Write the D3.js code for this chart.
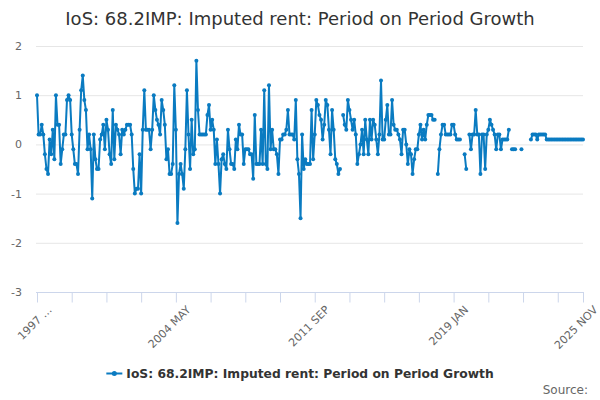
<!DOCTYPE html>
<html>
<head>
<meta charset="utf-8">
<script src="https://cdn.jsdelivr.net/npm/d3@7"></script>
<style>
  body { margin: 0; background: #fff; }
  svg { font-family: "DejaVu Sans", sans-serif; }
</style>
</head>
<body>
<div class="chart"></div>
<script>
// monthly series, 1997 JAN .. 2025 NOV
const startYear = 1997
const monthNames = ["JAN", "FEB", "MAR", "APR", "MAY", "JUN", "JUL", "AUG", "SEP", "OCT", "NOV", "DEC"]

const growth1997to2004 = [
  1.0, 0.2, 0.2, 0.4, 0.2, -0.2, -0.5, -0.6, 0.1, -0.2, 0.3,
  -0.3, 1.0, 0.4, 0.4, -0.4, -0.1, 0.2, 0.2, 0.9, 1.0, 0.9,
  0.2, -0.1, -0.4, -0.4, -0.6, 0.3, 1.1, 1.4, 0.9, 0.7, -0.1,
  0.2, -0.1, -1.1, 0.2, -0.3, -0.5, -0.5, 0.1, 0.2, 0.4, -0.1,
  0.5, 0.3, -0.2, -0.4, 0.7, -0.3, 0.4, 0.3, 0.2, -0.2, 0.3,
  0.2, 0.3, 0.4, 0.4, 0.4, 0.2, -0.5, -1.0, -0.9, -0.9, -0.2,
  -1.0, 0.3, 1.1, 0.3, 0.3, 0.3, -0.1, 0.3, 1.0, 0.7, 0.5,
  0.4, 0.2, 0.9, 0.7, 0.4, -0.3, -0.1, -0.6, -0.6, -0.4, 1.2
]
const growth2004to2011 = [
  0.3, -1.6, -0.6, -0.4, -0.6, -0.9, -0.1, 1.1, 0.2, -0.5, 0.5,
  -0.2, -0.1, 1.7, 0.7, 0.2, 0.2, 0.2, 0.2, 0.2, 0.6, 0.8,
  0.3, 0.5, 0.3, -0.4, 0.1, -0.4, -1.0, -0.3, -0.2, -0.4, -0.5,
  0.3, -0.1, -0.4, -0.4, -0.5, 0.1, -0.1, 0.4, 0.2, 0.2, -0.4,
  -0.1, -0.1, -0.1, -0.2, -0.2, -0.7, 0.6, -0.4, -0.4, -0.4, 0.3,
  -0.4, 1.1, -0.4, -0.5, 1.2, -0.1, 0.3, -0.1, -0.1, -0.2, -0.6,
  0.1, 0.1, 0.2, 0.2, 0.3, 0.7, 0.2, 0.2, 0.2, 0.1, 0.9,
  -0.3, -0.6, -1.5, 0.2, -0.5, -0.3, -0.4, -0.4, -0.4
]
const growth2011to2018 = [
  0.7, -0.3, 0.2, 0.9, 0.8, 0.6, 0.5, 0.1, 0.4, 0.9, 0.8,
  0.3, -0.2, 0.7, 0.3, -0.3, -0.4, -0.6, -0.5, null, 0.6, 0.4,
  0.3, 0.9, 0.7, 0.5, 0.3, 0.5, 0.2, -0.4, -0.2, 0.0, 0.3,
  -0.2, 0.5, 0.1, -0.2, 0.5, 0.1, 0.5, 0.4, 0.1, -0.2, 0.2,
  1.3, 0.1, 0.1, 0.5, 0.8, 0.2, 0.2, 0.9, 0.4, 0.3, 0.3,
  0.2, 0.1, -0.2, 0.3, 0.3, 0.0, -0.4, -0.1, -0.2, -0.6, -0.3,
  -0.1, -0.1, 0.2, 0.4, 0.1, 0.3, 0.1, 0.4, 0.6, 0.6, 0.6,
  0.5, 0.5
]
const growth2018to2025 = [
  null, -0.6, -0.1, 0.2, 0.4, 0.4, 0.2, 0.2, 0.2, 0.2, 0.4,
  0.4, 0.2, 0.1, 0.1, 0.1, null, null, -0.2, -0.5, null, 0.2,
  -0.1, 0.2, 0.2, 0.7, 0.2, 0.2, -0.6, 0.2, 0.2, -0.5, 0.2,
  0.3, 0.5, 0.4, 0.3, 0.2, -0.1, 0.2, 0.2, -0.1, 0.1, 0.1,
  0.1, 0.1, 0.3, null, -0.1, -0.1, -0.1, null, null, null, -0.1,
  null, null, null, null, null, 0.1, 0.2, 0.2, 0.2, 0.1, 0.2,
  0.2, 0.2, 0.2, 0.2, 0.1, 0.1, 0.1, 0.1, 0.1, 0.1, 0.1,
  0.1, 0.1, 0.1, 0.1, 0.1, 0.1, 0.1, 0.1, 0.1, 0.1, 0.1,
  0.1, 0.1, 0.1, 0.1, 0.1, 0.1
]

const yTicks = [-3, -2, -1, 0, 1, 2]
const tickEvery = 22
const labelEvery = 88

const seriesName = "IoS: 68.2IMP: Imputed rent: Period on Period Growth"
const color = "#0a7bc1"

const values = [...growth1997to2004, ...growth2004to2011, ...growth2011to2018, ...growth2018to2025]
const categories = values.map((_, i) => `${startYear + Math.floor(i / 12)} ${monthNames[i % 12]}`)
const data = values.map((v, i) => ({ i, label: categories[i], v }))

const width = 600
const height = 400
const margin = { top: 46, right: 17, bottom: 108, left: 36 }

const svg = d3.select(".chart").append("svg").attr("width", width).attr("height", height)

const x = d3.scaleLinear().domain([0, data.length - 1]).range([margin.left + 1, width - margin.right])
const y = d3.scaleLinear().domain([-3, 2]).range([height - margin.bottom, margin.top])

// title
svg.append("text")
  .attr("x", width / 2).attr("y", 25)
  .attr("text-anchor", "middle")
  .attr("fill", "#333").attr("font-size", 18)
  .text(seriesName)

// grid
svg.append("g")
  .selectAll("line")
  .data(yTicks.filter(d => d > -3))
  .enter().append("line")
  .attr("x1", margin.left).attr("x2", width - margin.right)
  .attr("y1", d => y(d) + 0.5).attr("y2", d => y(d) + 0.5)
  .attr("stroke", "#e6e6e6")

// y labels
svg.append("g")
  .selectAll("text")
  .data(yTicks)
  .enter().append("text")
  .attr("x", margin.left - 14).attr("y", d => y(d) + 4)
  .attr("text-anchor", "end")
  .attr("fill", "#666").attr("font-size", 11)
  .text(d => d)

// x axis
const tickIdx = d3.range(0, data.length - 1, tickEvery).concat([data.length - 1])
const xAxis = d3.axisBottom(x)
  .tickValues(tickIdx)
  .tickSize(10)
  .tickFormat(i => (i % labelEvery === 0 || i === data.length - 1) ? categories[i] : "")

const xAxisGroup = svg.append("g")
  .attr("transform", `translate(0, ${y(-3) + 0.5})`)
  .call(xAxis)

xAxisGroup.select(".domain").attr("stroke", "#ccd6eb").attr("d", `M${margin.left},0H${width - margin.right + 1}`)
xAxisGroup.selectAll(".tick line").attr("stroke", "#ccd6eb")
xAxisGroup.selectAll(".tick text")
  .attr("fill", "#666").attr("font-size", 11)
  .attr("font-family", "DejaVu Sans, sans-serif")
  .attr("text-anchor", "end")
  .attr("transform", "translate(3, 6) rotate(-45)")
  .attr("dy", "0.35em")
  .text(function (i) {
    const t = d3.select(this).text()
    return i === 0 ? t.replace(/ .*/, " \u2026") : t
  })

// line
const line = d3.line()
  .defined(d => d.v != null)
  .x(d => x(d.i))
  .y(d => y(d.v))

svg.append("path")
  .datum(data)
  .attr("fill", "none")
  .attr("stroke", color)
  .attr("stroke-width", 2)
  .attr("stroke-linejoin", "round")
  .attr("d", line)

svg.append("g")
  .selectAll("circle")
  .data(data.filter(d => d.v != null))
  .enter().append("circle")
  .attr("cx", d => x(d.i))
  .attr("cy", d => y(d.v))
  .attr("r", 2)
  .attr("fill", color)

// legend
const legend = svg.append("g")
const legendText = legend.append("text")
  .attr("y", 378)
  .attr("fill", "#333").attr("font-size", 12.3).attr("font-weight", "bold")
  .text(seriesName)
const tw = legendText.node().getComputedTextLength()
const lx = (width - (tw + 20)) / 2
legendText.attr("x", lx + 20)
legend.append("line")
  .attr("x1", lx).attr("x2", lx + 16)
  .attr("y1", 373.5).attr("y2", 373.5)
  .attr("stroke", color).attr("stroke-width", 2)
legend.append("circle")
  .attr("cx", lx + 8).attr("cy", 373.5).attr("r", 2.5)
  .attr("fill", color)

// credits
svg.append("text")
  .attr("x", width - 12).attr("y", 394)
  .attr("text-anchor", "end")
  .attr("fill", "#666").attr("font-size", 12)
  .text("Source:")
</script>
</body>
</html>
